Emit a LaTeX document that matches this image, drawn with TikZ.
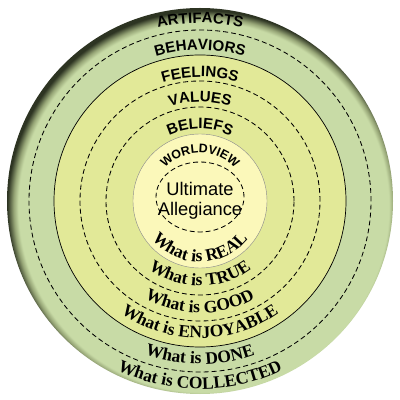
\documentclass[tikz,border=0pt]{standalone}
\usepackage{fontspec}
\usetikzlibrary{decorations.text}
\newfontfamily\ringsans{Liberation Sans}
\newfontfamily\ringserif{Liberation Serif}
\definecolor{ringA}{RGB}{200,219,166}
\definecolor{ringB}{RGB}{226,233,152}
\definecolor{ringC}{RGB}{251,248,186}
\definecolor{rimdark}{RGB}{45,52,34}
\definecolor{rimmid}{RGB}{150,165,118}
\pgfdeclareradialshading{rimshade}{\pgfpoint{0.9bp}{-1.5bp}}{color(0bp)=(ringA); color(24bp)=(ringA); color(24.6bp)=(rimmid); color(25.4bp)=(rimdark); color(50bp)=(rimdark)}
\newcommand\topfont{\ringsans\bfseries\fontsize{10.7}{12}\selectfont}
\newcommand\wvfont{\ringsans\bfseries\fontsize{8.8}{10}\selectfont}
\newcommand\botfont{\ringserif\bfseries\fontsize{12.4}{14}\selectfont}
\tikzset{
  sepline/.style={line width=0.6pt, dash pattern=on 3.5pt off 2.2pt},
  toparc/.style={decorate, decoration={text along path, text align=center,
      text/.expanded={|\noexpand\topfont|#1}}},
  botarc/.style={decorate, decoration={text along path, text align=center,
      text/.expanded={|\noexpand\botfont|#1}}},
}
\begin{document}
\begin{tikzpicture}[x=0.025cm,y=0.025cm]
	\useasboundingbox (-200,-199) rectangle (200,201);
	\coordinate (c) at (0,0);
	\shade[shading=rimshade] (c) circle (193);
	\fill[ringB] (c) circle (146);
	\draw[line width=0.5pt] (c) circle (146);
	\fill[ringC, draw=black!45, line width=0.3pt] (c) circle (67);
	\foreach \r in {171,120,94}\draw[sepline] (c) circle (\r);
	\draw[sepline] (0,4) ellipse [x radius=44, y radius=35];
	\foreach \r/\t in {178/ARTIFACTS,151/BEHAVIORS,124/FEELINGS,99/VALUES,72/BELIEFS}
	\path[toparc=\t] (c) ++(180:\r) arc[start angle=180, end angle=0, radius=\r];
	\path[decorate, decoration={text along path, text align=center, text={|\wvfont|WORLDVIEW}}]
	(c) ++(180:48) arc[start angle=180, end angle=0, radius=48];
	\foreach \r/\t in {61/What is REAL,85/What is TRUE,112/What is GOOD,137/What is ENJOYABLE,163/What is DONE,188/What is COLLECTED}
	\path[botarc=\t] (c) ++(180:\r) arc[start angle=180, end angle=360, radius=\r];
	\node[font=\ringsans\fontsize{13}{14}\selectfont, align=center] (core) at (c) {Ultimate\\Allegiance};
	%\draw[red] (c) circle (200);
\end{tikzpicture}
\end{document}
